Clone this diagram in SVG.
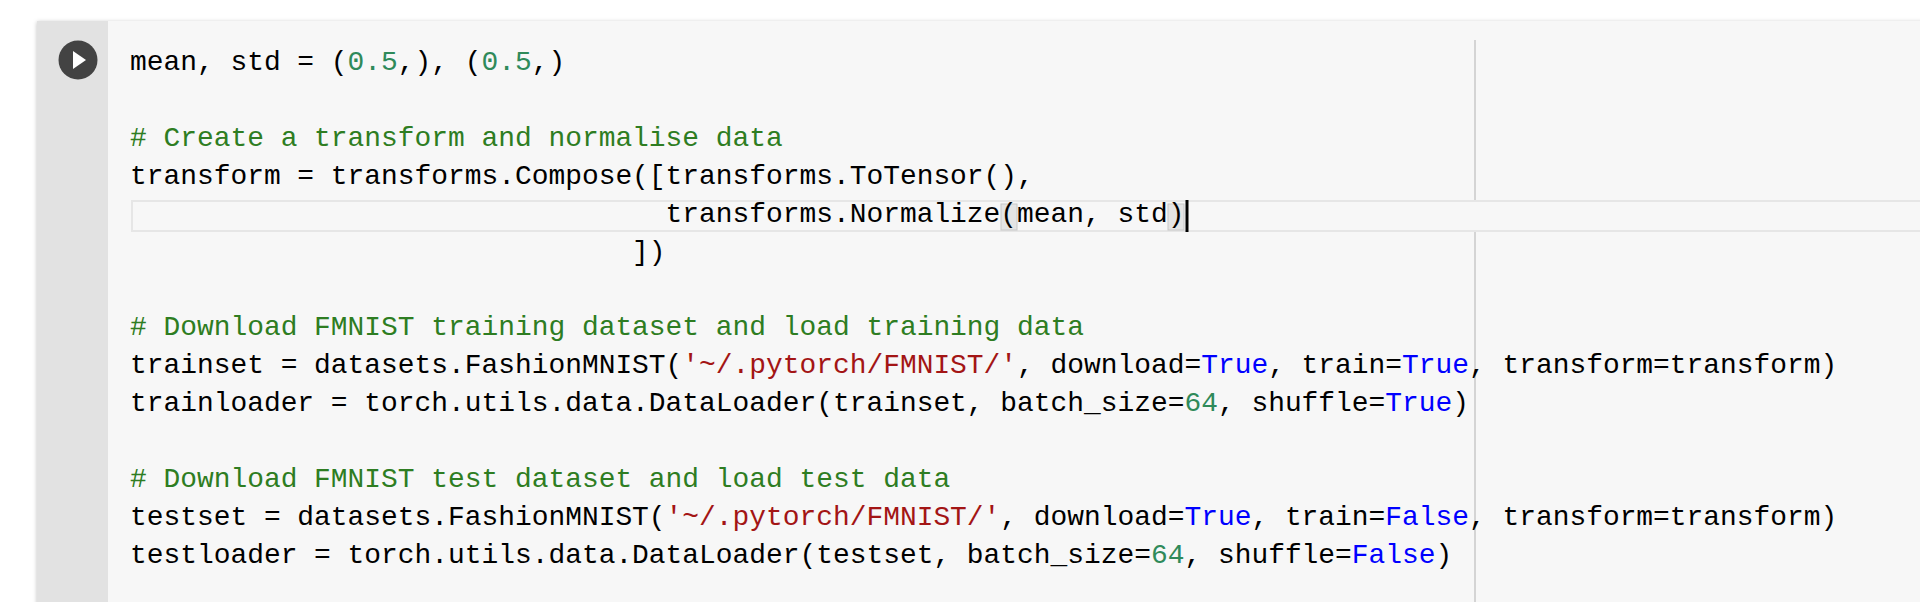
<svg xmlns="http://www.w3.org/2000/svg" width="1920" height="602" viewBox="0 0 1920 602">
<defs>
<style>
text{font-family:"Liberation Mono","DejaVu Sans Mono",monospace;font-size:27.9px;fill:#000;white-space:pre}
.c{fill:#2e7d22}.n{fill:#2f8a5a}.k{fill:#0000ff}.s{fill:#a31515}
</style>
<filter id="sh" x="-5%" y="-5%" width="110%" height="115%"><feDropShadow dx="0" dy="1" stdDeviation="2" flood-color="#000" flood-opacity="0.25"/></filter>
</defs>
<rect width="1920" height="602" fill="#fff"/>
<g id="cell">
<rect x="37" y="21" width="1890" height="600" fill="#f7f7f7" filter="url(#sh)"/>
<rect x="37" y="21" width="71" height="600" fill="#e2e2e2"/>
<line x1="1475" y1="40" x2="1475" y2="602" stroke="#d4d4d4" stroke-width="2"/>
<rect x="132" y="201" width="1800" height="30" fill="#f7f7f7" stroke="#e6e6e6" stroke-width="2"/>
<rect x="1001" y="204" width="16" height="26" fill="#e4e4e4" stroke="#c8c8c8"/>
<rect x="1168" y="204" width="16" height="26" fill="#e4e4e4" stroke="#c8c8c8"/>
<line x1="1187" y1="200" x2="1187" y2="232" stroke="#000" stroke-width="3"/>
</g>
<g id="play">
<circle cx="78" cy="60" r="19.5" fill="#434343"/>
<path d="M73 51 L86 60 L73 69 Z" fill="#fff"/>
</g>
<g id="code">
<text x="130" y="70" xml:space="preserve">mean, std = (<tspan class="n">0.5</tspan>,), (<tspan class="n">0.5</tspan>,)</text>
<text x="130" y="146" class="c" xml:space="preserve"># Create a transform and normalise data</text>
<text x="130" y="184" xml:space="preserve">transform = transforms.Compose([transforms.ToTensor(),</text>
<text x="130" y="222" xml:space="preserve">                                transforms.Normalize(mean, std)</text>
<text x="130" y="260" xml:space="preserve">                              ])</text>
<text x="130" y="335" class="c" xml:space="preserve"># Download FMNIST training dataset and load training data</text>
<text x="130" y="373" xml:space="preserve">trainset = datasets.FashionMNIST(<tspan class="s">'~/.pytorch/FMNIST/'</tspan>, download=<tspan class="k">True</tspan>, train=<tspan class="k">True</tspan>, transform=transform)</text>
<text x="130" y="411" xml:space="preserve">trainloader = torch.utils.data.DataLoader(trainset, batch_size=<tspan class="n">64</tspan>, shuffle=<tspan class="k">True</tspan>)</text>
<text x="130" y="487" class="c" xml:space="preserve"># Download FMNIST test dataset and load test data</text>
<text x="130" y="525" xml:space="preserve">testset = datasets.FashionMNIST(<tspan class="s">'~/.pytorch/FMNIST/'</tspan>, download=<tspan class="k">True</tspan>, train=<tspan class="k">False</tspan>, transform=transform)</text>
<text x="130" y="563" xml:space="preserve">testloader = torch.utils.data.DataLoader(testset, batch_size=<tspan class="n">64</tspan>, shuffle=<tspan class="k">False</tspan>)</text>
</g>
</svg>
